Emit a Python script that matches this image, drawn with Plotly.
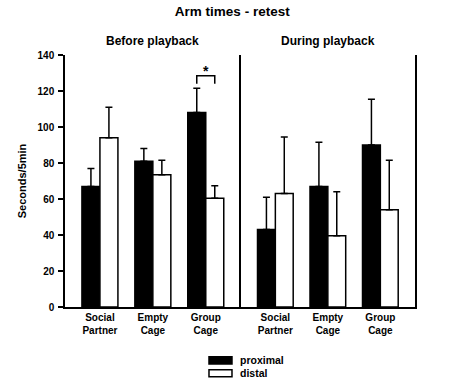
import plotly.graph_objects as go

categories = ["Social<br>Partner", "Empty<br>Cage", "Group<br>Cage"]
before_proximal = [67, 81, 108]
before_proximal_err = [10, 7, 13.5]
before_distal = [94, 73.5, 60.4]
before_distal_err = [17, 8, 7]
during_proximal = [43, 67, 90]
during_proximal_err = [18, 24.5, 25.4]
during_distal = [63, 39.6, 54]
during_distal_err = [31.5, 24.4, 27.5]
y_ticks = [0, 20, 40, 60, 80, 100, 120, 140]
legend_names = ["proximal", "distal"]
legend_fills = ["black", "white"]

FONT = "Liberation Sans, Arial, sans-serif"
xs = [0, 1, 2]

def eb(arr):
    return dict(type="data", array=arr, arrayminus=[0] * len(arr), symmetric=False,
                color="black", thickness=1.5, width=3.5)

fig = go.Figure()
fig.add_trace(go.Bar(x=xs, y=before_proximal, error_y=eb(before_proximal_err), name="proximal",
                     marker=dict(color="black", line=dict(color="black", width=1.5)),
                     xaxis="x", yaxis="y"))
fig.add_trace(go.Bar(x=xs, y=before_distal, error_y=eb(before_distal_err), name="distal",
                     marker=dict(color="white", line=dict(color="black", width=1.5)),
                     xaxis="x", yaxis="y"))
fig.add_trace(go.Bar(x=xs, y=during_proximal, error_y=eb(during_proximal_err), name="proximal",
                     marker=dict(color="black", line=dict(color="black", width=1.5)),
                     xaxis="x2", yaxis="y2"))
fig.add_trace(go.Bar(x=xs, y=during_distal, error_y=eb(during_distal_err), name="distal",
                     marker=dict(color="white", line=dict(color="black", width=1.5)),
                     xaxis="x2", yaxis="y2"))

xax = dict(range=[-0.66, 2.66], tickvals=xs, ticktext=categories, showline=True,
           linecolor="black", linewidth=1.5, ticks="", showgrid=False, zeroline=False,
           tickfont=dict(family=FONT, size=10, color="black", weight="bold"))

annotations = [
    dict(text="Before playback", x=0.25, y=1.056, xref="paper", yref="paper", showarrow=False,
         xanchor="center", yanchor="middle",
         font=dict(family=FONT, size=12, color="black", weight="bold")),
    dict(text="During playback", x=0.75, y=1.056, xref="paper", yref="paper", showarrow=False,
         xanchor="center", yanchor="middle",
         font=dict(family=FONT, size=12, color="black", weight="bold")),
    dict(text="*", x=2, y=131, xref="x", yref="y", showarrow=False,
         xanchor="center", yanchor="middle",
         font=dict(family=FONT, size=14, color="black", weight="bold")),
]
shapes = [
    dict(type="path", xref="x", yref="y", path="M 1.83,124 L 1.83,128.5 L 2.17,128.5 L 2.17,124",
         line=dict(color="black", width=1.5)),
]
# manual legend (keys are wide, short rectangles as in the reference)
leg_y = [(-0.1972, -0.2262), (-0.2488, -0.2766)]
for name, fill, (y0, y1) in zip(legend_names, legend_fills, leg_y):
    shapes.append(dict(type="rect", xref="paper", yref="paper", x0=0.4114, x1=0.4771, y0=y0, y1=y1,
                       fillcolor=fill, line=dict(color="black", width=1.5)))
    annotations.append(dict(text=name, x=0.4943, y=(y0 + y1) / 2, xref="paper", yref="paper",
                            showarrow=False, xanchor="left", yanchor="middle",
                            font=dict(family=FONT, size=10.5, color="black", weight="bold")))

fig.update_layout(
    width=474, height=389,
    margin=dict(l=65, r=59, t=55, b=82),
    paper_bgcolor="white", plot_bgcolor="white",
    barmode="group", bargap=0.32, bargroupgap=0,
    showlegend=False,
    title=dict(text="Arm times - retest", x=0.49, xanchor="center", y=0.972, yanchor="middle",
               font=dict(family=FONT, size=13.5, color="black", weight="bold")),
    xaxis=dict(domain=[0, 0.502], anchor="y", **xax),
    xaxis2=dict(domain=[0.502, 1], anchor="y2", **xax),
    yaxis=dict(range=[0, 140], tickvals=y_ticks, showline=True, linecolor="black", linewidth=1.5,
               ticks="outside", ticklen=5, tickwidth=1.5, tickcolor="black", showgrid=False,
               zeroline=False, anchor="x", ticklabelstandoff=2,
               tickfont=dict(family=FONT, size=10, color="black", weight="bold"),
               title=dict(text="Seconds/5min", standoff=9,
                          font=dict(family=FONT, size=11, color="black", weight="bold"))),
    yaxis2=dict(range=[0, 140], matches="y", showline=True, mirror=True, linecolor="black",
                linewidth=1.5, ticks="", showticklabels=False, showgrid=False, zeroline=False,
                anchor="x2"),
    annotations=annotations,
    shapes=shapes,
)

fig.write_html("out.html", config={"displayModeBar": False},
               post_script="document.body.style.margin='0px';")
